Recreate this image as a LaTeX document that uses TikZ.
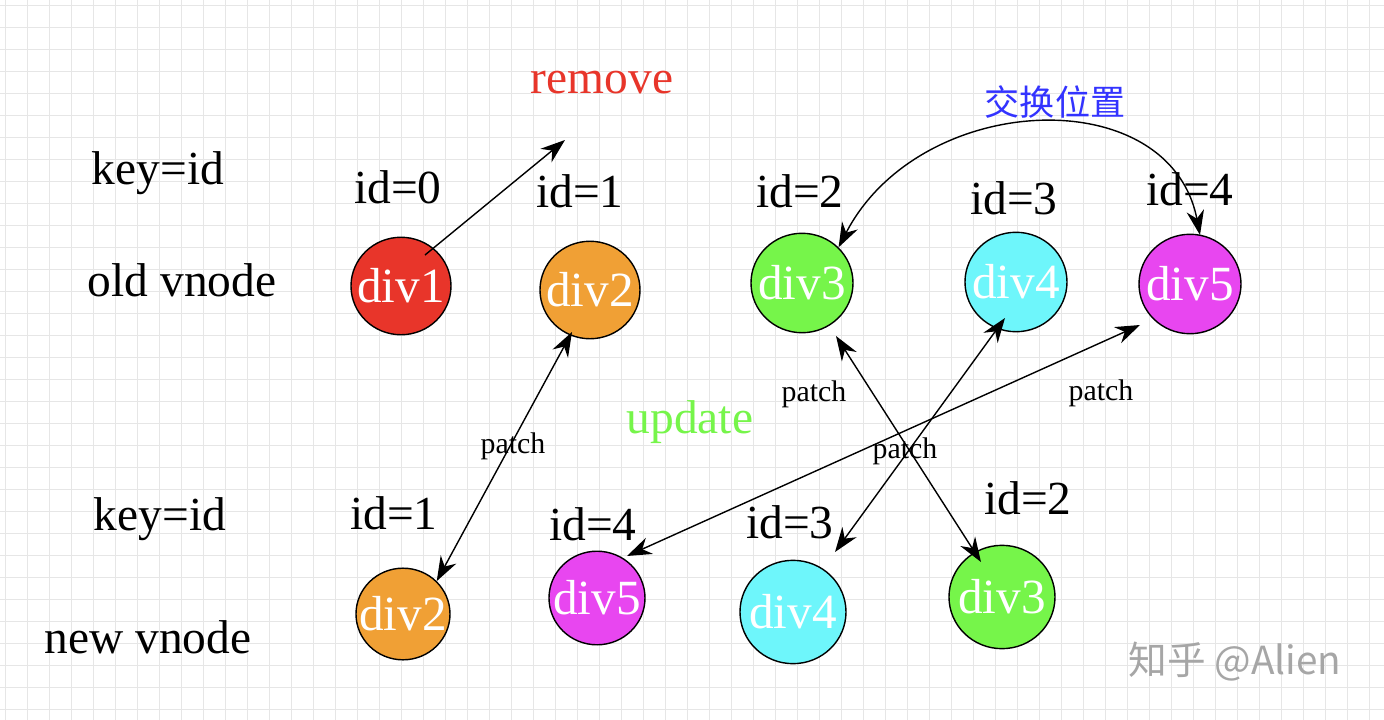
\documentclass[tikz,border=0pt]{standalone}
\usepackage{fontspec}
\setmainfont{Liberation Serif}
\newfontfamily\cjk{Noto Sans CJK SC}
\usetikzlibrary{arrows.meta,shapes.geometric}
\definecolor{cred}{HTML}{E8352A}
\definecolor{corange}{HTML}{F0A035}
\definecolor{cgreen}{HTML}{76F54A}
\definecolor{ccyan}{HTML}{6EF6FB}
\definecolor{cmag}{HTML}{E846F0}
\definecolor{gridc}{HTML}{E6E6E6}
\newcommand{\zb}[1]{\makebox[0pt]{#1}}
\tikzset{
  vn/.style={ellipse, draw=black, thick, minimum width=#1*0.02cm, minimum height=#1*0.0195cm, inner sep=0pt, text=white, font=\fontsize{28}{28}\selectfont},
  lbl/.style={font=\fontsize{27}{27}\selectfont},
  pt/.style={font=\fontsize{17}{17}\selectfont},
  arr/.style={thick, -{Stealth[length=14pt,width=10pt]}},
  darr/.style={thick, {Stealth[length=14pt,width=10pt]}-{Stealth[length=14pt,width=10pt]}}
}
\begin{document}
\begin{tikzpicture}[x=0.02cm,y=-0.02cm]
\useasboundingbox (0,0) rectangle (1384,720);
\fill[white] (0,0) rectangle (1384,720);
\foreach \i in {0,...,63} \draw[gridc, line width=0.5pt] (\i*22+5,0) -- (\i*22+5,720);
\foreach \j in {0,...,33} \draw[gridc, line width=0.5pt] (0,\j*22+5) -- (1384,\j*22+5);
% old
\node[vn=100, fill=cred] (o1) at (401,286) {\zb{div1}};
\node[vn=100, fill=corange] (o2) at (590,290) {\zb{div2}};
\node[vn=102, fill=cgreen] (o3) at (802,283) {\zb{div3}};
\node[vn=102, fill=ccyan] (o4) at (1016,282) {\zb{div4}};
\node[vn=102, fill=cmag] (o5) at (1190,284) {\zb{div5}};
% new
\node[vn=94, fill=corange] (n2) at (403,614) {\zb{div2}};
\node[vn=96, fill=cmag] (n5) at (597,598) {\zb{div5}};
\node[vn=106, fill=ccyan] (n4) at (793,612) {\zb{div4}};
\node[vn=106, fill=cgreen] (n3) at (1002,597) {\zb{div3}};
% labels
\node[lbl] (k1) at (158,173) {key=id};
\node[lbl] (ov) at (182,280) {old vnode};
\node[lbl] (k2) at (160,519) {key=id};
\node[lbl] (nv) at (148,637) {new vnode};
\node[lbl] (i0) at (398,187) {id=0};
\node[lbl] (i1) at (580,191) {id=1};
\node[lbl] (i2) at (800,191) {id=2};
\node[lbl] (i3) at (1014,198) {id=3};
\node[lbl] (i4) at (1190,189) {id=4};
\node[lbl] (j1) at (394,513) {id=1};
\node[lbl] (j4) at (593,524) {id=4};
\node[lbl] (j3) at (790,522) {id=3};
\node[lbl] (j2) at (1028,498) {id=2};
\node[lbl, text=cred] (rm) at (602,83) {remove};
\node[font=\cjk\fontsize{20}{20}\selectfont, text=blue!80!white] (sw) at (1055,102) {交换位置};
\node[lbl, text=cgreen] (up) at (690,422) {update};
\node[pt] (p1) at (513,446) {patch};
\node[pt] (p2) at (814,394) {patch};
\node[pt] (p3) at (905,451) {patch};
\node[pt] (p4) at (1101,393) {patch};
\node[font=\cjk\fontsize{22}{22}\selectfont, text=gray!70] (wm) at (1235,662) {知乎 @Alien};
% connectors
\coordinate (rt) at (565,140);
\draw[arr] (425,255) -- (rt);
\draw[darr] (572,332) -- (n2.north east);
\coordinate (c5) at (1200,235);
\draw[darr] (o3.north east) .. controls (920,90) and (1170,80) .. (c5);
\draw[darr] (836,336) -- (981,562);
\draw[darr] (1005,318) -- (835,552);
\draw[darr] (1140,325) -- (627,556);
\end{tikzpicture}
\end{document}
